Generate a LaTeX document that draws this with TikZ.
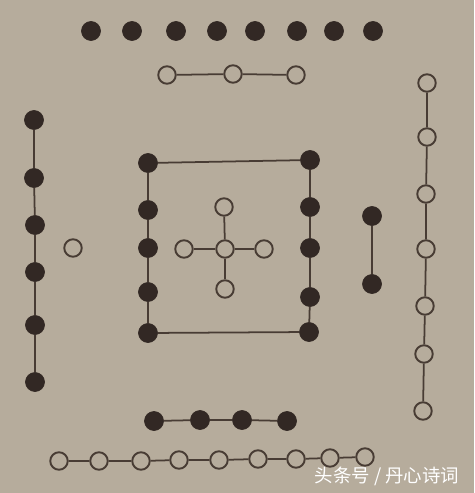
\documentclass[tikz,border=0pt]{standalone}
\usepackage{fontspec}
\newfontfamily\cjk{Noto Sans CJK SC}
\definecolor{paper}{RGB}{182,172,156}
\definecolor{ink}{RGB}{50,40,36}
\definecolor{rule}{RGB}{72,60,52}
\begin{document}
\begin{tikzpicture}[x=0.02cm, y=-0.02cm,
	yin/.style = {draw=ink, circle, fill=ink, inner sep=0pt, minimum size=0.38cm},
	yang/.style = {draw=rule, circle, fill=paper, line width=1.1pt, inner sep=0pt, minimum size=0.35cm},
	link/.style = {draw=rule, line width=1pt}]
		\fill[paper] (0,0) rectangle (474,493);
		\useasboundingbox (0,0) rectangle (474,493);
		% top row, eight
		\node[yin] (t1) at (91,31) {};
		\node[yin] (t2) at (132,31) {};
		\node[yin] (t3) at (176,31) {};
		\node[yin] (t4) at (217,31) {};
		\node[yin] (t5) at (255,31) {};
		\node[yin] (t6) at (297,31) {};
		\node[yin] (t7) at (334,31) {};
		\node[yin] (t8) at (373,31) {};
		% three
		\node[yang] (u1) at (167,75) {};
		\node[yang] (u2) at (233,74) {};
		\node[yang] (u3) at (296,75) {};
		\draw[link] (u1) -- (u2) -- (u3);
		% left column, six
		\node[yin] (l1) at (34,120) {};
		\node[yin] (l2) at (34,178) {};
		\node[yin] (l3) at (35,225) {};
		\node[yin] (l4) at (35,272) {};
		\node[yin] (l5) at (35,325) {};
		\node[yin] (l6) at (35,382) {};
		\draw[link] (l1) -- (l2) -- (l3) -- (l4) -- (l5) -- (l6);
		% one
		\node[yang] (w) at (73,248) {};
		% square, ten
		\node[yin] (q1) at (148,163) {};
		\node[yin] (q2) at (148,210) {};
		\node[yin] (q3) at (148,248) {};
		\node[yin] (q4) at (148,292) {};
		\node[yin] (q5) at (148,333) {};
		\node[yin] (q6) at (310,160) {};
		\node[yin] (q7) at (310,207) {};
		\node[yin] (q8) at (310,248) {};
		\node[yin] (q9) at (310,297) {};
		\node[yin] (q10) at (309,332) {};
		\draw[link] (q1) -- (q2) -- (q3) -- (q4) -- (q5) -- (q10);
		\draw[link] (q1) -- (q6) -- (q7) -- (q8) -- (q9) -- (q10);
		% centre, five
		\node[yang] (c0) at (225,249) {};
		\node[yang] (c1) at (224,207) {};
		\node[yang] (c2) at (264,249) {};
		\node[yang] (c3) at (225,289) {};
		\node[yang] (c4) at (184,249) {};
		\draw[link] (c0) -- (c1);
		\draw[link] (c0) -- (c2);
		\draw[link] (c0) -- (c3);
		\draw[link] (c0) -- (c4);
		% two
		\node[yin] (r1) at (372,216) {};
		\node[yin] (r2) at (372,284) {};
		\draw[link] (r1) -- (r2);
		% right column, seven
		\node[yang] (e1) at (427,83) {};
		\node[yang] (e2) at (427,137) {};
		\node[yang] (e3) at (426,194) {};
		\node[yang] (e4) at (426,249) {};
		\node[yang] (e5) at (425,306) {};
		\node[yang] (e6) at (424,354) {};
		\node[yang] (e7) at (423,411) {};
		\draw[link] (e1) -- (e2) -- (e3) -- (e4) -- (e5) -- (e6) -- (e7);
		% four
		\node[yin] (b1) at (154,421) {};
		\node[yin] (b2) at (200,420) {};
		\node[yin] (b3) at (242,420) {};
		\node[yin] (b4) at (287,421) {};
		\draw[link] (b1) -- (b2) -- (b3) -- (b4);
		% bottom row, nine
		\node[yang] (o1) at (59,461) {};
		\node[yang] (o2) at (99,461) {};
		\node[yang] (o3) at (141,461) {};
		\node[yang] (o4) at (179,460) {};
		\node[yang] (o5) at (219,460) {};
		\node[yang] (o6) at (258,459) {};
		\node[yang] (o7) at (296,459) {};
		\node[yang] (o8) at (330,458) {};
		\node[yang] (o9) at (365,457) {};
		\draw[link] (o1) -- (o2) -- (o3) -- (o4) -- (o5) -- (o6) -- (o7) -- (o8) -- (o9);
		% mark
		\node[text=white, font=\cjk\fontsize{10.5}{12}\selectfont] (m) at (387,476) {头条号 / 丹心诗词};
	\end{tikzpicture}
\end{document}
